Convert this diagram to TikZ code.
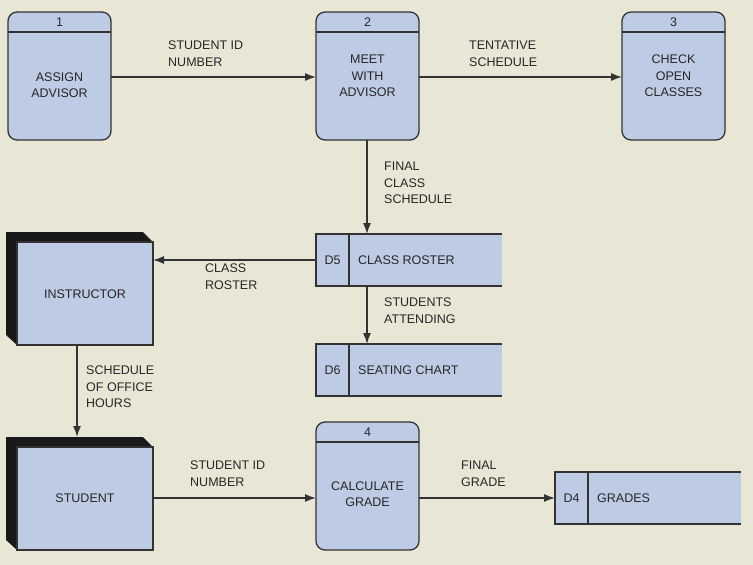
\documentclass[tikz,border=0pt]{standalone}
\usepackage{fontspec}
\setmainfont{Liberation Sans}
\usetikzlibrary{arrows.meta}
\definecolor{bg}{HTML}{E8E6D5}
\definecolor{fillc}{HTML}{BDCCE4}
\tikzset{
 lab/.style={font=\fontsize{12.5}{16.5}\selectfont, align=left, inner sep=0pt, text=black!85},
 ctr/.style={font=\fontsize{12.5}{16.5}\selectfont, align=center, inner sep=0pt, text=black!85},
 ln/.style={draw=black!80, line width=1.3pt},
 arr/.style={ln, -{Latex[length=11pt,width=8pt]}},
}
\newcommand{\proc}[4]{% name, x, y, number
 \draw[ln, fill=fillc, rounded corners=9pt] (#2,#3) rectangle ++(103,128);
 \draw[ln] (#2,#3+20) -- ++(103,0);
 \node[ctr] at (#2+51.5,#3+10) {#4};
}
\newcommand{\ent}[3]{% name, x, y (front top-left)
 \fill[black!90] (#2-11,#3-10) -- (#2+126,#3-10) -- (#2+136,#3) -- (#2,#3+103) -- (#2-11,#3+93) -- cycle;
 \draw[ln, fill=fillc] (#2,#3) rectangle ++(136,103);
}
\newcommand{\store}[3]{% x, y, id
 \fill[fillc] (#1,#2) rectangle ++(186,52);
 \draw[ln] (#1+186,#2) -- (#1,#2) -- (#1,#2+52) -- (#1+186,#2+52);
 \draw[ln] (#1+33,#2) -- ++(0,52);
 \node[ctr] at (#1+16.5,#2+26) {#3};
}
\begin{document}
\begin{tikzpicture}[x=1pt,y=-1pt]
\fill[bg] (0,0) rectangle (753,565);
\useasboundingbox (0,0) rectangle (753,565);
\proc{p1}{8}{12}{1}
\proc{p2}{316}{12}{2}
\proc{p3}{622}{12}{3}
\proc{p4}{316}{422}{4}
\node[ctr] (p1) at (59.5,85) {ASSIGN\\ADVISOR};
\node[ctr] (p2) at (367.5,76) {MEET\\WITH\\ADVISOR};
\node[ctr] (p3) at (673.5,76) {CHECK\\OPEN\\CLASSES};
\node[ctr] (p4) at (367.5,494) {CALCULATE\\GRADE};
\coordinate (p1r) at (111,77); \coordinate (p2l) at (316,77);
\coordinate (p2r) at (419,77); \coordinate (p3l) at (622,77);
\coordinate (p2b) at (367,140);
\coordinate (p4l) at (316,498); \coordinate (p4r) at (419,498);
\ent{e1}{17}{242}
\ent{e2}{17}{447}
\node[ctr] (e1) at (85,294) {INSTRUCTOR};
\node[ctr] (e2) at (85,498) {STUDENT};
\coordinate (e1r) at (153,260); \coordinate (e1b) at (77,345);
\coordinate (e2t) at (77,437); \coordinate (e2r) at (153,498);
\store{316}{234}{D5}
\store{316}{344}{D6}
\store{555}{472}{D4}
\node[lab, anchor=west] (d5) at (358,260) {CLASS ROSTER};
\node[lab, anchor=west] (d6) at (358,370) {SEATING CHART};
\node[lab, anchor=west] (d4) at (597,498) {GRADES};
\coordinate (d5t) at (367,234); \coordinate (d5l) at (316,260);
\coordinate (d5b) at (367,286); \coordinate (d6t) at (367,344);
\coordinate (d4l) at (555,498);
\draw[arr] (p1r) -- (p2l);
\draw[arr] (p2r) -- (p3l);
\draw[arr] (p2b) -- (d5t);
\draw[arr] (d5l) -- (e1r);
\draw[arr] (d5b) -- (d6t);
\draw[arr] (e1b) -- (e2t);
\draw[arr] (e2r) -- (p4l);
\draw[arr] (p4r) -- (d4l);
\node[lab, anchor=north west] at (168,41) {STUDENT ID\\NUMBER};
\node[lab, anchor=north west] at (469,41) {TENTATIVE\\SCHEDULE};
\node[lab, anchor=north west] at (384,162) {FINAL\\CLASS\\SCHEDULE};
\node[lab, anchor=north west] at (205,264) {CLASS\\ROSTER};
\node[lab, anchor=north west] at (384,298) {STUDENTS\\ATTENDING};
\node[lab, anchor=north west] at (86,366) {SCHEDULE\\OF OFFICE\\HOURS};
\node[lab, anchor=north west] at (190,461) {STUDENT ID\\NUMBER};
\node[lab, anchor=north west] at (461,461) {FINAL\\GRADE};
\end{tikzpicture}
\end{document}
